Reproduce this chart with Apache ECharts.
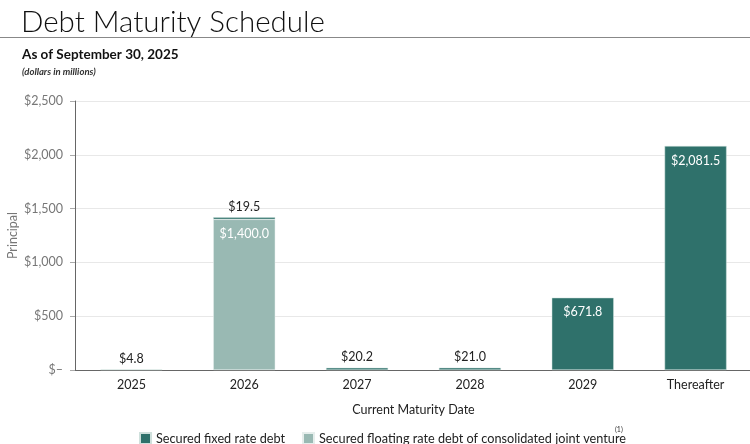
<!DOCTYPE html>
<html><head><meta charset="utf-8">
<script src="https://cdn.jsdelivr.net/npm/echarts@6/dist/echarts.min.js"></script>
<style>html,body{margin:0;padding:0;background:#fff}#c{width:750px;height:444px}</style>
</head><body><div id="c"></div>
<script>
const categories = ['2025','2026','2027','2028','2029','Thereafter'];
const fixedRate = [4.8, 19.5, 20.2, 21.0, 671.8, 2081.5];
const floatingRate = [null, 1400.0, null, null, null, null];
const yTicks = [0, 500, 1000, 1500, 2000, 2500];
const insideFixed = [false, false, false, false, true, true];

const fmt = v => v === 0 ? '$–' : '$' + v.toLocaleString('en-US');
const fmt1 = v => '$' + v.toLocaleString('en-US', {minimumFractionDigits:1, maximumFractionDigits:1});
const FONT = 'Lato, "Noto Sans", sans-serif';
const DARK = '#2f716b', LIGHT = '#99b9b3';

const chart = echarts.init(document.getElementById('c'));
chart.setOption({
  animation: false,
  textStyle: {fontFamily: FONT},
  title: [
    {text: 'Debt Maturity Schedule', left: 16, top: 2, textStyle: {fontFamily: FONT, fontWeight: 300, fontSize: 29.5, color: '#111'}},
    {text: 'As of September 30, 2025', left: 17, top: 43, textStyle: {fontFamily: FONT, fontWeight: 'bold', fontSize: 13.5, color: '#111'}},
    {text: '(dollars in millions)', left: 17, top: 62, textStyle: {fontFamily: FONT, fontStyle: 'italic', fontSize: 9.5, color: '#333'}}
  ],
  graphic: [
    {type: 'line', shape: {x1: 0, y1: 37.5, x2: 750, y2: 37.5}, style: {stroke: '#888', lineWidth: 1}},
    {type: 'text', left: 615, top: 426, style: {text: '(1)', fontSize: 7, fill: '#333', fontFamily: FONT}}
  ],
  grid: {left: 75, right: -2, top: 101, bottom: 74, containLabel: false, outerBoundsMode: 'none'},
  legend: {
    bottom: -1, left: 139, padding: 0, itemWidth: 11, itemHeight: 11, itemGap: 17,
    icon: 'rect',
    textStyle: {fontFamily: FONT, fontSize: 12.7, color: '#222'},
    data: ['Secured fixed rate debt', 'Secured floating rate debt of consolidated joint venture']
  },
  xAxis: {
    type: 'category', data: categories,
    name: 'Current Maturity Date', nameLocation: 'middle', nameGap: 33,
    nameTextStyle: {fontFamily: FONT, fontSize: 12.5, color: '#222'},
    axisLine: {lineStyle: {color: '#666', width: 1.2}},
    axisTick: {show: false},
    axisLabel: {fontFamily: FONT, fontSize: 12.5, color: '#222', margin: 8}
  },
  yAxis: {
    type: 'value', min: 0, max: 2500, interval: 500,
    name: 'Principal', nameLocation: 'middle', nameGap: 56, nameRotate: 90, nameMoveOverlap: false,
    nameTextStyle: {fontFamily: FONT, fontSize: 12.5, color: '#777'},
    axisLine: {show: true, lineStyle: {color: '#666', width: 1}},
    axisTick: {show: true, length: 5, lineStyle: {color: '#aaa'}},
    axisLabel: {fontFamily: FONT, fontSize: 12.5, color: '#777', margin: 12,
      formatter: v => yTicks.includes(v) ? fmt(v) : ''},
    splitLine: {lineStyle: {color: '#e8e8e8'}}
  },
  series: [
    {
      name: 'Secured floating rate debt of consolidated joint venture', type: 'bar', stack: 'd',
      barWidth: 62, data: floatingRate,
      itemStyle: {color: LIGHT, borderColor: '#e6eeec', borderWidth: 0.5},
      label: {show: true, position: 'insideTop', distance: 8, color: '#fff', fontSize: 12.5, fontFamily: FONT,
        formatter: p => p.value == null ? '' : fmt1(p.value)}
    },
    {
      name: 'Secured fixed rate debt', type: 'bar', stack: 'd',
      barWidth: 62,
      data: fixedRate.map((v, i) => ({
        value: v,
        label: insideFixed[i]
          ? {position: 'insideTop', distance: 8, color: '#fff'}
          : {position: 'top', distance: 4, color: '#222'}
      })),
      itemStyle: {color: DARK, borderColor: '#cfe0dc', borderWidth: 0.5},
      label: {show: true, fontSize: 12.5, fontFamily: FONT, formatter: p => fmt1(p.value)}
    }
  ]
});
</script></body></html>
